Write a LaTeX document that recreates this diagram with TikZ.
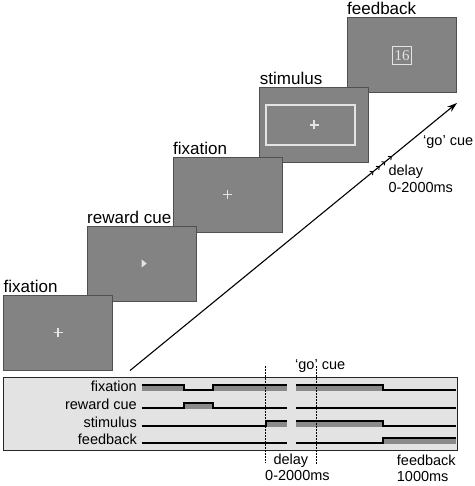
\documentclass[tikz,border=0pt]{standalone}
\usepackage{fontspec}
\setmainfont{Liberation Sans}
\newfontfamily\digitfont{Liberation Serif}
\usetikzlibrary{arrows.meta,calc}
\definecolor{scr}{HTML}{838383}
\definecolor{scrb}{HTML}{505050}
\definecolor{lite}{HTML}{E4E4E4}
\definecolor{tlbg}{HTML}{E3E3E3}
\definecolor{hi}{HTML}{8A8A8A}
\begin{document}
\begin{tikzpicture}[x=1pt,y=-1pt,
  screen/.style={draw=scrb,fill=scr,line width=0.8pt,minimum width=109pt,minimum height=75pt,inner sep=0,outer sep=0},
  title/.style={font=\fontsize{17}{20}\selectfont,inner sep=0,anchor=base west},
  lab/.style={font=\fontsize{14.5}{17}\selectfont,inner sep=0},
  crossline/.style={draw=lite,line width=1.6pt},
  sig/.style={line width=2pt,line join=miter},
  vdash/.style={dash pattern=on 1.5pt off 1.5pt,line width=0.7pt},
  tick/.style={line width=0.9pt}
]
\useasboundingbox (0,0) rectangle (474,486);

% screens (later ones underneath)
\node[screen] (s5) at (401.5,54.5) {};
\node[screen] (s4) at (314.25,125) {};
\node[screen] (s3) at (227.5,194.5) {};
\node[screen] (s2) at (141.5,263.5) {};
\node[screen] (s1) at (58,332.5) {};

% titles
\node[title] (t1) at ($(s1.north west)+(0,-2.5)$) {fixation};
\node[title] (t2) at ($(s2.north west)+(0,-2.5)$) {reward cue};
\node[title] (t3) at ($(s3.north west)+(0,-2.5)$) {fixation};
\node[title] (t4) at ($(s4.north west)+(0,-2.5)$) {stimulus};
\node[title] (t5) at ($(s5.north west)+(0,-2.5)$) {feedback};

% screen contents
\foreach \s in {s1,s3,s4}{
  \draw[crossline] ($(\s.center)+(-4.5,0)$) -- ++(9,0);
  \draw[crossline] ($(\s.center)+(0,-4.5)$) -- ++(0,9);
}
\fill[lite] ($(s2.center)+(0.2,-4)$) -- ++(5,4) -- ++(-5,4) -- cycle;
\draw[lite,line width=2pt] (266,105) rectangle (355,145);
\node[draw=lite,line width=1.5pt,minimum width=19pt,minimum height=18pt,inner sep=0,
  text=lite,font=\digitfont\fontsize{15}{15}\selectfont] (fb) at ($(s5.center)+(0.5,1)$) {16};

% time arrow
\coordinate (arA) at (130,370.5);
\coordinate (arB) at (457,103);
\draw[line width=1.1pt,-{Stealth[length=10pt,width=6.5pt]}] (arA) -- (arB);
\foreach \t in {0.743,0.762,0.779,0.799}{
  \coordinate (tk) at ($(arA)!\t!(arB)$);
  \draw[tick] ($(tk)+(-3.3,-0.4)$) -- (tk) -- ($(tk)+(-0.4,3.3)$);
}
\node[lab,anchor=base west] (go) at (423,145.5) {‘go’ cue};
\node[lab,anchor=base west] (dl) at (388.3,175.5) {delay};
\node[lab,anchor=base west] (dms) at (388.3,192.5) {0-2000ms};

% timeline box
\node[draw=black!85,fill=tlbg,line width=1pt,minimum width=454pt,minimum height=73pt,inner sep=0] (tl) at (230,413.5) {};

\node[lab,anchor=base east] (rf) at (137,391.5) {fixation};
\node[lab,anchor=base east] (rr) at (137,409.3) {reward cue};
\node[lab,anchor=base east] (rs) at (137,427) {stimulus};
\node[lab,anchor=base east] (rfb) at (137,444.5) {feedback};

% fixation row
\fill[hi] (141.7,385.3) rectangle (183.5,391);
\fill[hi] (213,385.3) rectangle (286.7,391);
\fill[hi] (295.7,385.3) rectangle (382.5,391);
\draw[sig] (141.7,385.3) -- (183.5,385.3) -- (183.5,390.3) -- (213,390.3) -- (213,385.3) -- (286.7,385.3);
\draw[sig] (295.7,385.3) -- (382.5,385.3) -- (382.5,390.3) -- (456,390.3);
% reward row
\fill[hi] (184,402.8) rectangle (213,409.3);
\draw[sig] (141.7,408.3) -- (184,408.3) -- (184,402.8) -- (213,402.8) -- (213,408.3) -- (286.7,408.3);
\draw[sig] (295.7,408.3) -- (456,408.3);
% stimulus row
\fill[hi] (265.5,420.7) rectangle (286.7,427);
\fill[hi] (295.7,420.7) rectangle (382.5,427);
\draw[sig] (141.7,426) -- (265.5,426) -- (265.5,420.7) -- (286.7,420.7);
\draw[sig] (295.7,420.7) -- (382.5,420.7) -- (382.5,426) -- (456,426);
% feedback row
\fill[hi] (382.5,438) rectangle (456,444.3);
\draw[sig] (141.7,443.3) -- (286.7,443.3);
\draw[sig] (295.7,443.3) -- (382.5,443.3) -- (382.5,438) -- (456,438);

% dashed markers
\coordinate (d1t) at (265.5,366);
\coordinate (d1b) at (265.5,463);
\coordinate (d2t) at (316.5,366);
\coordinate (d2b) at (316.5,464);
\draw[vdash] (d1t) -- (d1b);
\draw[vdash] (d2t) -- (d2b);

\node[lab,anchor=base west] (go2) at (295,369.5) {‘go’ cue};
\node[lab,anchor=base west] (dl2) at (273.3,464) {delay};
\node[lab,anchor=base west] (dms2) at (265,480.7) {0-2000ms};
\node[lab,anchor=base west] (fbl) at (396.7,465.5) {feedback};
\node[lab,anchor=base west] (fbms) at (396.7,481) {1000ms};
\end{tikzpicture}
\end{document}
